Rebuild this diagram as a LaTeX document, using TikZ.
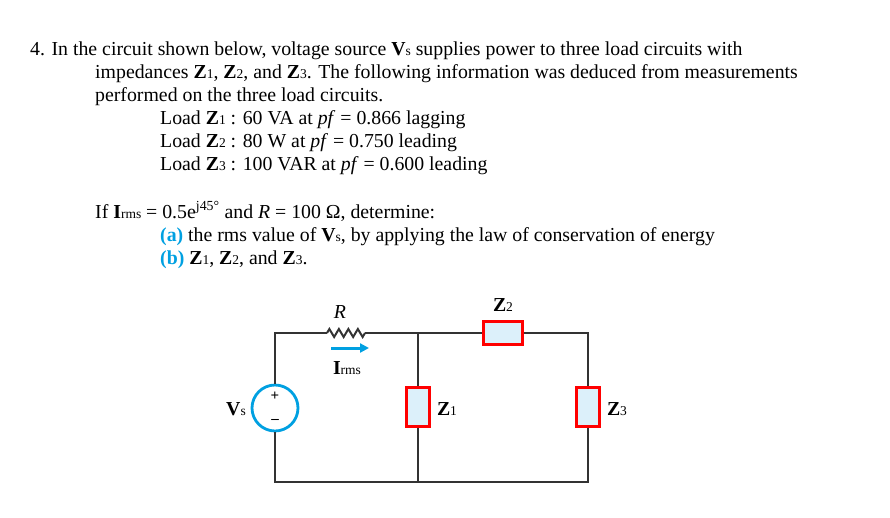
\documentclass[tikz,border=0pt]{standalone}
\usepackage{fontspec}
\setmainfont{Liberation Serif}
\usetikzlibrary{decorations.pathmorphing,arrows.meta}
\definecolor{cblue}{RGB}{0,160,225}
\definecolor{zfill}{RGB}{220,240,250}
\newcommand{\sbx}[1]{{\fontsize{13.5}{13.5}\selectfont #1}}
\newcommand{\bV}{\textbf{V}\sbx{s}}
\newcommand{\bZ}[1]{\textbf{Z}\sbx{#1}}
\begin{document}
\begin{tikzpicture}[x=1pt,y=-1pt,
  txt/.style={anchor=base west,inner sep=0,font=\fontsize{19.8}{19.8}\selectfont},
  lbl/.style={inner sep=0,font=\fontsize{19.8}{19.8}\selectfont},
  wire/.style={line width=2pt,draw=black!80},
  imp/.style={draw=red,fill=zfill,line width=2.4pt,minimum width=23pt,minimum height=39pt,inner sep=0}]
\useasboundingbox (0,0) rectangle (890,517);
\node[txt] (t1) at (30,55) {4. In the circuit shown below, voltage source \bV\ supplies power to three load circuits with};
\node[txt] (t2) at (95,78) {impedances \bZ{1}, \bZ{2}, and \bZ{3}. The following information was deduced from measurements};
\node[txt] (t3) at (95,101) {performed on the three load circuits.};
\node[txt] (t4) at (160,124) {Load \bZ{1} : 60 VA at \textit{pf} = 0.866 lagging};
\node[txt] (t5) at (160,147) {Load \bZ{2} : 80 W at \textit{pf} = 0.750 leading};
\node[txt] (t6) at (160,170) {Load \bZ{3} : 100 VAR at \textit{pf} = 0.600 leading};
\node[txt] (t7) at (95,218) {If \textbf{I}\sbx{rms} = 0.5e\textsuperscript{j45°} and \textit{R} = 100 Ω, determine:};
\node[txt] (t8) at (160,241) {\textcolor{cblue}{\textbf{(a)}} the rms value of \bV, by applying the law of conservation of energy};
\node[txt] (t9) at (160,264) {\textcolor{cblue}{\textbf{(b)}} \bZ{1}, \bZ{2}, and \bZ{3}.};
% circuit
\coordinate (tl) at (275,333); \coordinate (bl) at (275,482);
\coordinate (tm) at (418,333); \coordinate (bm) at (418,482);
\coordinate (tr) at (588,333); \coordinate (br) at (588,482);
\coordinate (r1) at (327,333); \coordinate (r2) at (365,333);
\node[circle,draw=cblue,line width=2.8pt,minimum size=46pt,inner sep=0] (vs) at (275,408) {};
\node[imp,minimum width=39pt,minimum height=23pt] (z2) at (503,333) {};
\node[imp] (z1) at (418,407) {};
\node[imp] (z3) at (588,407) {};
\draw[wire] (vs.north) -- (tl) -- (r1);
\draw[wire,decorate,decoration={zigzag,segment length=9.5pt,amplitude=4pt}] (r1) -- (r2);
\draw[wire] (r2) -- (tm) -- (z2.west);
\draw[wire] (z2.east) -- (tr) -- (z3.north);
\draw[wire] (z3.south) -- (br) -- (bl) -- (vs.south);
\draw[wire] (tm) -- (z1.north); \draw[wire] (z1.south) -- (bm);
\node[font=\fontsize{15}{15}\selectfont\bfseries] at (275,396) {+};
\node[font=\fontsize{15}{15}\selectfont\bfseries] at (275,421) {–};
\coordinate (a1) at (331,348); \coordinate (a2) at (369,348);
\draw[cblue,line width=3pt,-{Triangle[length=9pt,width=9pt]}] (a1) -- (a2);
\node[lbl] (lr) at (340,312) {\textit{R}};
\node[lbl] (li) at (347,368) {\textbf{I}\sbx{rms}};
\node[lbl] (lz2) at (503,305) {\bZ{2}};
\node[lbl] (lvs) at (236,409) {\bV};
\node[lbl] (lz1) at (447,409) {\bZ{1}};
\node[lbl] (lz3) at (617,409) {\bZ{3}};
\end{tikzpicture}
\end{document}
